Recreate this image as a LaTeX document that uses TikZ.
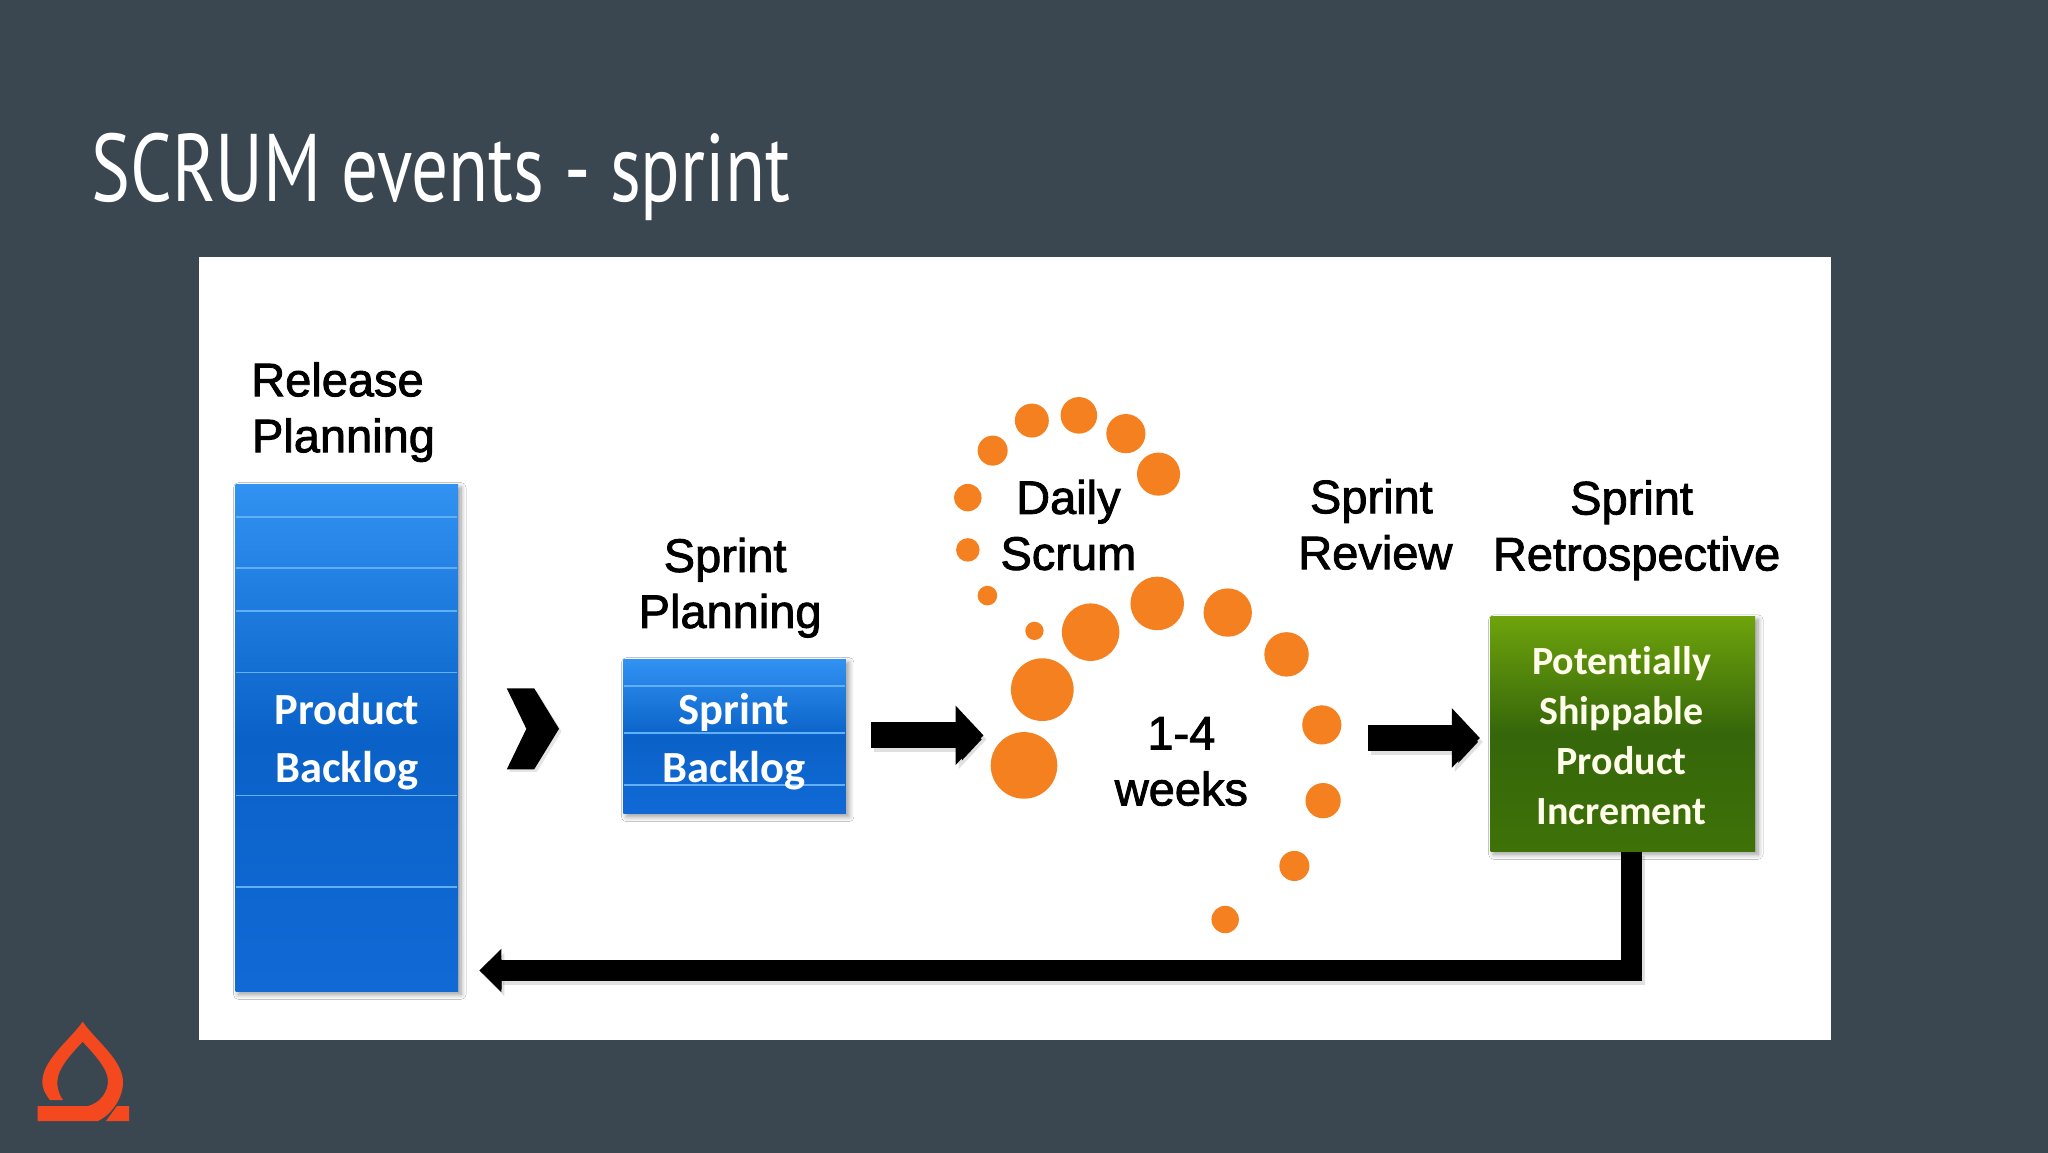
\documentclass[tikz,border=0pt]{standalone}
\usepackage{fontspec}
\setmainfont{Liberation Sans}
\newfontfamily\labelfont{Liberation Sans}[FakeBold=1.8]
\newfontfamily\titlefont{PT Sans}
\newfontfamily\boxfont{Carlito}[Ligatures=NoCommon]
\usetikzlibrary{shadows.blur,arrows.meta,calc}
\definecolor{slide}{HTML}{3A4751}
\definecolor{dotor}{HTML}{F58020}
\definecolor{logoc}{HTML}{F4491F}
\definecolor{barline}{HTML}{62AEF7}
\definecolor{bluetop}{HTML}{3192F2}
\definecolor{bluemid}{HTML}{0A62C8}
\definecolor{bluebot}{HTML}{1169D6}
\definecolor{greentop}{HTML}{6EA30C}
\definecolor{greenmid}{HTML}{35660A}
\definecolor{greenbot}{HTML}{3E7208}
\tikzset{
  softshadow/.style={blur shadow={shadow xshift=3pt,shadow yshift=-3pt,shadow blur radius=5pt,shadow blur steps=8,shadow opacity=40}},
  blueblock/.style={rectangle,inner sep=0pt,top color=bluetop,bottom color=bluebot,middle color=bluemid,softshadow},
  greenblock/.style={rectangle,inner sep=0pt,top color=greentop,bottom color=greenbot,middle color=greenmid,softshadow},
  label/.style={font=\labelfont\fontsize{47}{56}\selectfont,text=black,align=center,inner sep=0pt},
  inbox/.style={font=\boxfont\bfseries\fontsize{44.5}{57.5}\selectfont,text=white,align=center,inner sep=0pt},
  ingreen/.style={font=\boxfont\bfseries\fontsize{40}{50}\selectfont,text=white!92!yellow,align=center,inner sep=0pt},
  orangedot/.style={circle,fill=dotor,inner sep=0pt,minimum size=#1},
  strip/.style={draw=barline,line width=1.6pt},
  flow/.style={draw=black,line width=26pt,-{Triangle[length=28pt,width=58pt]}},
  backflow/.style={draw=black,line width=21pt,-{Triangle[length=22pt,width=42pt]}},
  ghost/.style={draw=black,draw opacity=.12},
}
\begin{document}
\begin{tikzpicture}[x=1.30612pt,y=-1.30612pt]
\useasboundingbox (0,0) rectangle (1568,882);
\fill[slide] (-6,-6) rectangle (1574,888);
\node[anchor=base west,inner sep=0pt,text=white,font=\titlefont\fontsize{96}{110}\selectfont,xscale=.7636,transform shape] (title) at (70,154) {SCRUM events - sprint};
\node[rectangle,fill=white,inner sep=0pt,minimum width=1632.6pt,minimum height=782.4pt] (panel) at (777,496.5) {};

% backlogs
\node[blueblock,minimum width=222.5pt,minimum height=506.8pt] (pb) at (265.5,565) {};
\foreach \yy in {396,435,468,515,609,679}
  \draw[strip] (181,\yy) -- (350,\yy);
\node[blueblock,minimum width=222.5pt,minimum height=154.1pt] (sb) at (562.5,564) {};
\foreach \yy in {525,561,601}
  \draw[strip] (478,\yy) -- (647,\yy);
\node[greenblock,minimum width=264.5pt,minimum height=234.5pt] (pi) at (1242.5,562) {};

% labels
\node[label] (rp) at (263,315.5) {\hspace*{-12pt}Release\\Planning};
\node[label] (sp) at (559,450) {\hspace*{-10pt}Sprint\\Planning};
\node[label] (ds) at (818,402) {Daily\\Scrum};
\node[label] (sr) at (1053,401.5) {\hspace*{-8pt}Sprint\\Review};
\node[label] (sre) at (1253,406) {\hspace*{-10pt}Sprint\\Retrospective};
\node[label] (wk) at (904.5,583) {1-4\\weeks};
\node[inbox] (pbt) at (265.5,568) {Product\\Backlog};
\node[inbox] (sbt) at (562,568) {Sprint\\Backlog};
\node[ingreen] (pit) at (1241.5,563.5) {Potentially\\Shippable\\Product\\Increment};

% chevron between the backlogs
\node[coordinate] (chev) at (408,558) {};
\fill[black!10] ($(chev)+(-18,-29)$) -- ++(21,0) -- ++(19,31) -- ++(-19,31) -- ++(-21,0) -- ++(15,-31) -- cycle;
\fill[black] ($(chev)+(-20,-31)$) -- ++(21,0) -- ++(19,31) -- ++(-19,31) -- ++(-21,0) -- ++(15,-31) -- cycle;

% connectors
\coordinate (a1s) at (667,563);
\coordinate (a1e) at (753,563);
\coordinate (a2s) at (1047,565);
\coordinate (a2e) at (1133,565);
\coordinate (bk) at (1249,743);
\coordinate (bke) at (367,743);
\begin{scope}[transform canvas={shift={(3pt,-4pt)}}]
\draw[flow,ghost] (a1s) -- (a1e);
\draw[flow,ghost] (a2s) -- (a2e);
\draw[backflow,ghost] (pi.south -| bk) -- (bk) -- (bke);
\end{scope}
\draw[flow] (a1s) -- (a1e);
\draw[flow] (a2s) -- (a2e);
\draw[backflow,line join=miter] (pi.south -| bk) -- (bk) -- (bke);

% dots
\foreach \i/\dx/\dy/\dr in {1/760/345/23,2/790/322/26,3/826/318/28,4/862/332/30,5/887/363/33,6/741/381/21,7/741/421/18,8/756/456/15,9/792/483/14,10/835/484/44,11/886/462/41,12/940/469/37,13/985/501/34,14/798/528/48,15/784/586/51,16/1012/555/30,17/1013/613/27,18/991/663/23,19/938/704/21}
  \node[orangedot=\dr*1.30612pt] (d\i) at (\dx,\dy) {};

% logo
\begin{scope}[x=1pt,y=-1pt]
\fill[logoc] (82.7,1021.7) .. controls (95,1040) and (123,1060) .. (123,1082)
  .. controls (123,1098) and (112,1114) .. (98,1121) -- (37.7,1121) -- (37.7,1106) -- (88,1106)
  .. controls (100,1103) and (108,1092) .. (108,1081)
  .. controls (108,1068) and (92,1052) .. (82.7,1041.7)
  .. controls (73,1052) and (57.3,1068) .. (57.3,1082)
  .. controls (57.3,1090) and (60,1096) .. (63,1100) -- (50,1100)
  .. controls (45,1094) and (42.3,1088) .. (42.3,1082)
  .. controls (42.3,1060) and (70,1040) .. (82.7,1021.7) -- cycle;
\fill[logoc] (117,1106) -- (129,1106) -- (129,1121) -- (106,1121) -- cycle;
\end{scope}
\end{tikzpicture}
\end{document}
